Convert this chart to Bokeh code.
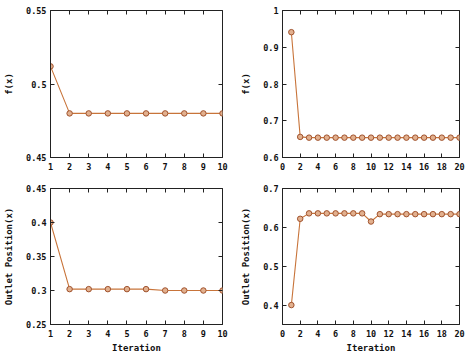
from bokeh.plotting import figure
from bokeh.layouts import column, row
from bokeh.models import (Range1d, FixedTicker, LinearAxis, NumeralTickFormatter,
                          CustomJSTickFormatter)
from bokeh.embed import file_html
from bokeh.resources import INLINE

# Data
iter_a = list(range(1, 11))
fx_a = [0.512, 0.48, 0.48, 0.48, 0.48, 0.48, 0.48, 0.48, 0.48, 0.48]
pos_a = [0.400, 0.302, 0.302, 0.302, 0.302, 0.302, 0.300, 0.300, 0.300, 0.300]

iter_b = list(range(1, 21))
fx_b = [0.941, 0.656] + [0.654] * 18
pos_b = [0.400, 0.622, 0.636, 0.636, 0.636, 0.636, 0.636, 0.636, 0.636, 0.615,
         0.634, 0.634, 0.634, 0.634, 0.634, 0.634, 0.634, 0.634, 0.634, 0.634]

xticks_a = list(range(1, 11))
xticks_b = list(range(0, 21, 2))
yticks_fa = [0.45, 0.5, 0.55]
yticks_fb = [0.6, 0.7, 0.8, 0.9, 1.0]
yticks_pa = [0.25, 0.3, 0.35, 0.4, 0.45]
yticks_pb = [0.4, 0.5, 0.6, 0.7]

FONT = "DejaVu Sans Mono"
LINE_C = "#c8743a"
MK_LINE = "#a0522d"
MK_FILL = "#e2b08e"


def mirror(ticks):
    return LinearAxis(ticker=FixedTicker(ticks=ticks),
                      formatter=CustomJSTickFormatter(code="return ''"),
                      major_tick_in=4, major_tick_out=0, axis_line_color=None,
                      major_tick_line_color="#222222", minor_tick_line_color=None,
                      major_label_standoff=0)


def make(x, y, xr, yr, xt, yt, ylabel, xlabel, w, h, ml, mr, mt, mb):
    p = figure(width=w, height=h, x_range=Range1d(*xr), y_range=Range1d(*yr),
               output_backend="svg", toolbar_location=None,
               min_border_left=ml, min_border_right=mr, min_border_top=mt,
               min_border_bottom=mb)
    p.grid.visible = False
    p.outline_line_color = "#222222"
    p.outline_line_width = 1
    p.line(x, y, line_color=LINE_C, line_width=1.1)
    p.scatter(x, y, size=5.5, fill_color=MK_FILL, line_color=MK_LINE, line_width=1)
    for ax in (p.xaxis[0], p.yaxis[0]):
        ax.major_tick_in = 4
        ax.major_tick_out = 0
        ax.minor_tick_line_color = None
        ax.axis_line_color = "#222222"
        ax.major_tick_line_color = "#222222"
        ax.major_label_text_font = FONT
        ax.major_label_text_font_style = "bold"
        ax.major_label_text_font_size = "8.5px"
        ax.major_label_text_color = "#111111"
        ax.axis_label_text_font = FONT
        ax.axis_label_text_font_style = "bold"
        ax.axis_label_text_font_size = "9px"
        ax.axis_label_text_color = "#111111"
    p.xaxis[0].ticker = FixedTicker(ticks=xt)
    p.yaxis[0].ticker = FixedTicker(ticks=yt)
    p.xaxis[0].formatter = NumeralTickFormatter(format="0")
    p.yaxis[0].formatter = NumeralTickFormatter(format="0.[00]")
    p.yaxis[0].axis_label = ylabel
    p.yaxis[0].major_label_standoff = 4
    p.yaxis[0].axis_label_standoff = 9
    p.xaxis[0].major_label_standoff = 5
    p.xaxis[0].axis_label_standoff = 3
    if xlabel:
        p.xaxis[0].axis_label = xlabel
    p.add_layout(mirror(xt), "above")
    p.add_layout(mirror(yt), "right")
    return p


p1 = make(iter_a, fx_a, (1, 10), (0.45, 0.55), xticks_a, yticks_fa, "f(x)", None,
          237, 175, 50, 15, 10, 18)
p2 = make(iter_b, fx_b, (0, 20), (0.6, 1.0), xticks_b, yticks_fb, "f(x)", None,
          237, 175, 45, 15, 10, 18)
p3 = make(iter_a, pos_a, (1, 10), (0.25, 0.45), xticks_a, yticks_pa, "Outlet Position(x)",
          "Iteration", 237, 180, 50, 15, 13, 30)
p4 = make(iter_b, pos_b, (0, 20), (0.35, 0.7), xticks_b, yticks_pb, "Outlet Position(x)",
          "Iteration", 237, 180, 45, 15, 13, 31)

layout = column(row(p1, p2, spacing=0), row(p3, p4, spacing=0), spacing=0)
open("out.html", "w").write(file_html(layout, INLINE))
